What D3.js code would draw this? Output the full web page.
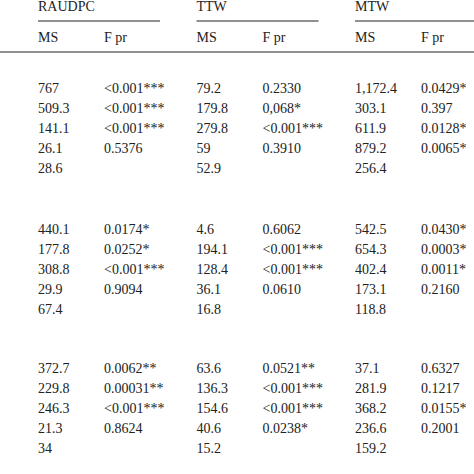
<!DOCTYPE html><html><head><meta charset="utf-8">
<script src="https://cdn.jsdelivr.net/npm/d3@7"></script>
<style>body{margin:0;background:#fff}text{font-family:"Liberation Serif",serif;font-size:14px;fill:#222}</style></head><body>
<svg id="c" width="474" height="474"></svg>
<script>
const groups=["RAUDPC","TTW","MTW"];
const subHeads=["MS","F pr"];
const raudpcMS=[["767","509.3","141.1","26.1","28.6"],["440.1","177.8","308.8","29.9","67.4"],["372.7","229.8","246.3","21.3","34"]];
const raudpcF=[["<0.001***","<0.001***","<0.001***","0.5376",""],["0.0174*","0.0252*","<0.001***","0.9094",""],["0.0062**","0.00031**","<0.001***","0.8624",""]];
const ttwMS=[["79.2","179.8","279.8","59","52.9"],["4.6","194.1","128.4","36.1","16.8"],["63.6","136.3","154.6","40.6","15.2"]];
const ttwF=[["0.2330","0,068*","<0.001***","0.3910",""],["0.6062","<0.001***","<0.001***","0.0610",""],["0.0521**","<0.001***","<0.001***","0.0238*",""]];
const mtwMS=[["1,172.4","303.1","611.9","879.2","256.4"],["542.5","654.3","402.4","173.1","118.8"],["37.1","281.9","368.2","236.6","159.2"]];
const mtwF=[["0.0429*","0.397","0.0128*","0.0065*",""],["0.0430*","0.0003*","0.0011*","0.2160",""],["0.6327","0.1217","0.0155*","0.2001",""]];
const svg=d3.select("#c");
const gx=d3.scalePoint().domain(groups).range([38,355]);
const sub=d3.scaleOrdinal().domain(subHeads).range([0,66]);
const blockY=d3.scaleOrdinal().domain([0,1,2]).range([93,234,373]);
const rowY=d3.scaleLinear().domain([0,1]).range([0,20]);
groups.forEach(g=>{
 svg.append("text").attr("x",gx(g)).attr("y",11).text(g);
 svg.append("line").attr("x1",gx(g)).attr("x2",gx(g)+122).attr("y1",21).attr("y2",21).attr("stroke","#222").attr("stroke-width",1.2);
 subHeads.forEach(s=>svg.append("text").attr("x",gx(g)+sub(s)).attr("y",42).text(s));
});
svg.append("line").attr("x1",0).attr("x2",474).attr("y1",52).attr("y2",52).attr("stroke","#222").attr("stroke-width",1.2);
const cols=[["RAUDPC",raudpcMS,raudpcF],["TTW",ttwMS,ttwF],["MTW",mtwMS,mtwF]];
cols.forEach(([g,ms,fp])=>{
 [0,1,2].forEach(b=>{
  ms[b].forEach((v,i)=>svg.append("text").attr("x",gx(g)).attr("y",blockY(b)+rowY(i)).text(v));
  fp[b].forEach((v,i)=>svg.append("text").attr("x",gx(g)+sub("F pr")).attr("y",blockY(b)+rowY(i)).text(v));
 });
});
</script></body></html>
